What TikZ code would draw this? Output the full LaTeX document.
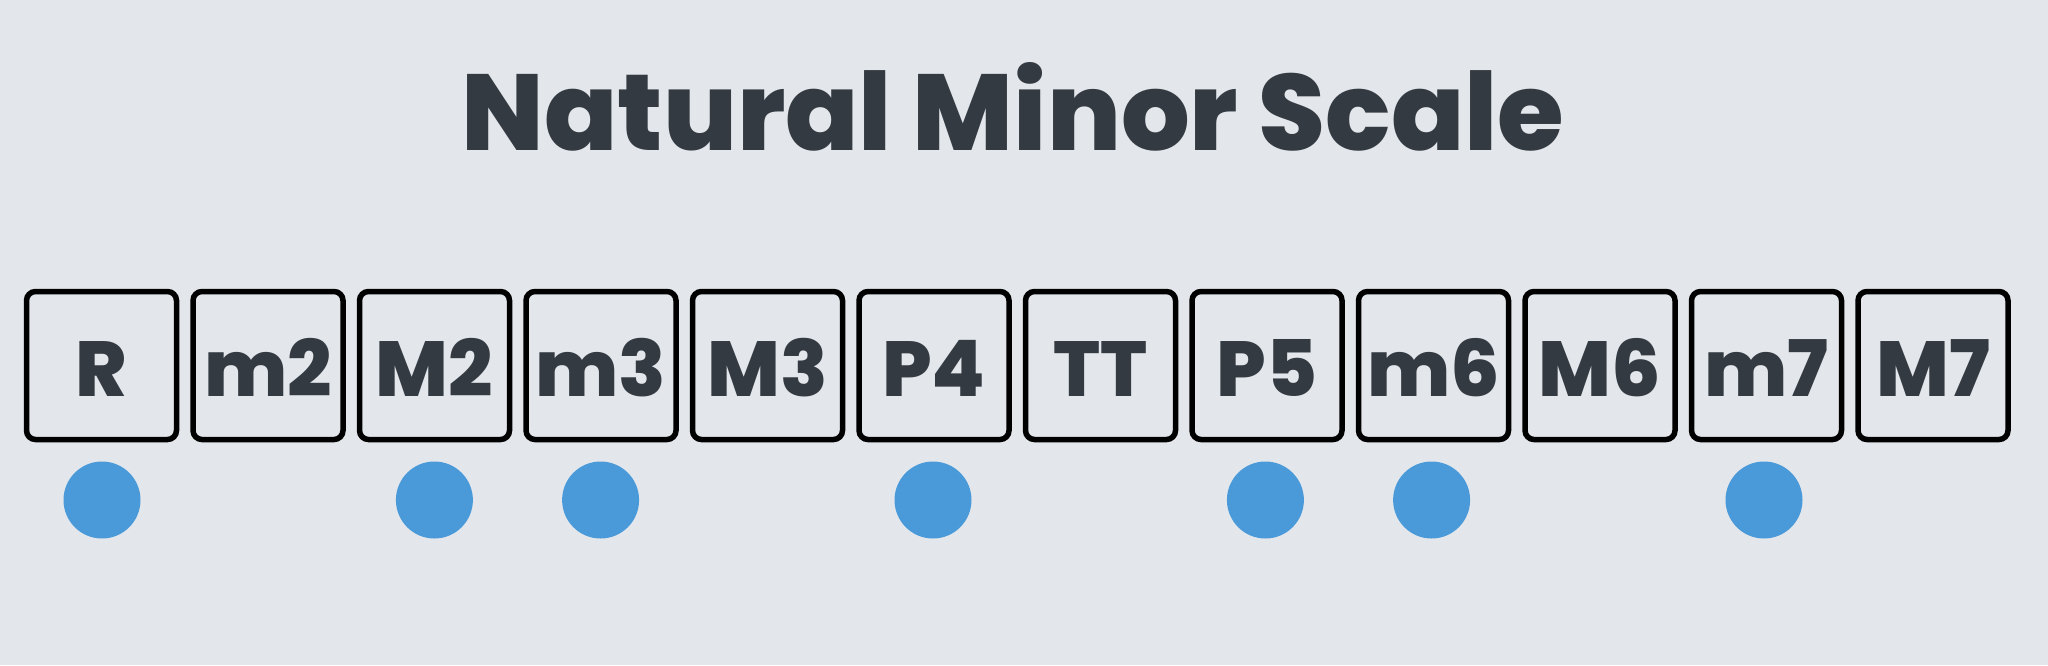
\documentclass[tikz,border=0pt]{standalone}
\usepackage{fontspec}
\setmainfont{Poppins}[BoldFont=* ExtraBold]
\definecolor{bgc}{HTML}{E3E7EB}
\definecolor{txt}{HTML}{343A42}
\definecolor{dotc}{HTML}{4A9ADA}
\begin{document}
\begin{tikzpicture}[x=1pt,y=-1pt,
  ivbox/.style={draw=black,line width=5.5pt,rounded corners=9pt,minimum width=150pt,minimum height=148pt,inner sep=0pt},
  ivlbl/.style={font=\fontsize{78}{78}\selectfont\bfseries,text=txt,inner sep=0pt,anchor=base},
  dot/.style={circle,fill=dotc,minimum size=77pt,inner sep=0pt}]
\fill[bgc] (0,0) rectangle (2048,665);
\useasboundingbox (0,0) rectangle (2048,665);
\node[font=\fontsize{108}{108}\selectfont\bfseries,text=txt,inner sep=0pt,anchor=base] (title) at (1013,150) {Natural Minor Scale};
\foreach \lab [count=\i from 0] in {R,m2,M2,m3,M3,P4,TT,P5,m6,M6,m7,M7}{
  \node[ivbox] (b\i) at (101.5+\i*166.5,365.5) {};
  \node[ivlbl] (l\i) at (101.5+\i*166.5,396) {\lab};
}
\foreach \i in {0,2,3,5,7,8,10}{
  \node[dot] (d\i) at (102+\i*166.2,500) {};
}
\end{tikzpicture}
\end{document}
